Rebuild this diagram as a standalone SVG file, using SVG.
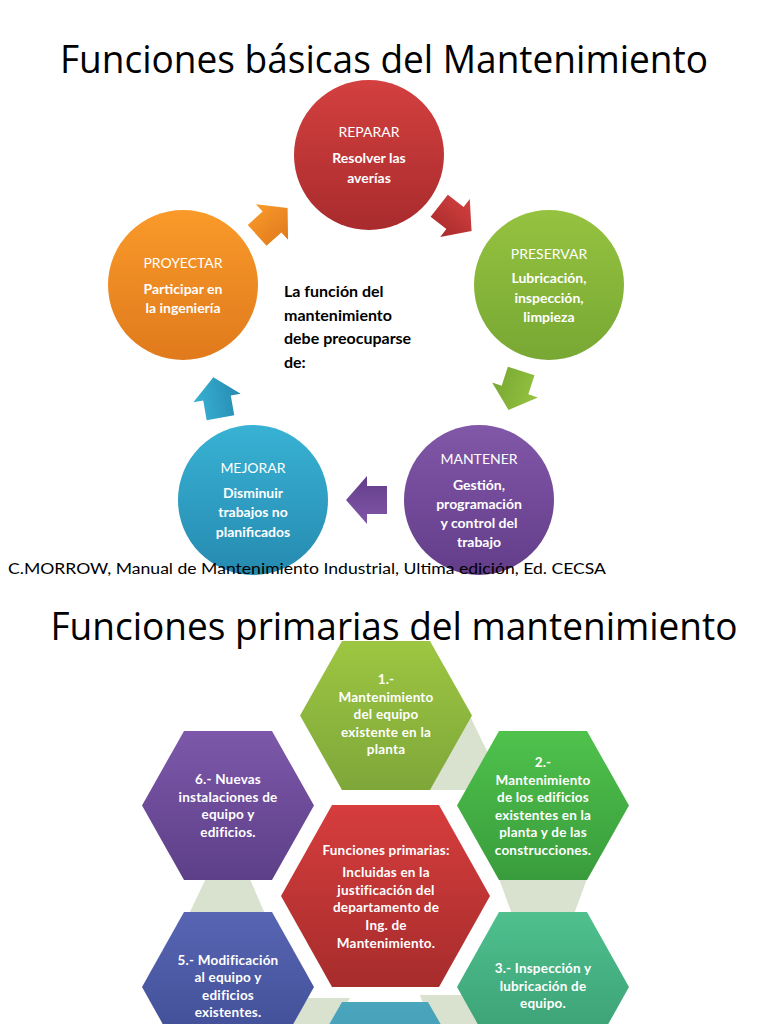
<svg xmlns="http://www.w3.org/2000/svg" width="768" height="1024" viewBox="0 0 768 1024">
<style>
.title{font-family:"Open Sans","Liberation Sans",sans-serif;font-size:38px;fill:#000;text-anchor:middle}
.cite{font-family:Lato,"Liberation Sans",sans-serif;font-size:16px;fill:#000}
.note{font-family:Lato,"Liberation Sans",sans-serif;font-size:16px;font-weight:bold;fill:#000}
.ct{font-family:Lato,"Liberation Sans",sans-serif;font-size:14px;fill:#fff;text-anchor:middle}
.cb{font-weight:bold}
.hx{font-family:Lato,"Liberation Sans",sans-serif;font-size:13.5px;font-weight:bold;fill:#fff;text-anchor:middle;letter-spacing:0.2px}
.conn{fill:#d9e2cf}
</style>
<defs>
<linearGradient id="gRed" x1="0" y1="0" x2="0" y2="1"><stop offset="0" stop-color="#d3403f"/><stop offset="1" stop-color="#a92b2d"/></linearGradient>
<linearGradient id="gGrn" x1="0" y1="0" x2="0" y2="1"><stop offset="0" stop-color="#95c23f"/><stop offset="1" stop-color="#78a834"/></linearGradient>
<linearGradient id="gPur" x1="0" y1="0" x2="0" y2="1"><stop offset="0" stop-color="#8157a8"/><stop offset="1" stop-color="#633d8a"/></linearGradient>
<linearGradient id="gBlu" x1="0" y1="0" x2="0" y2="1"><stop offset="0" stop-color="#38b2d4"/><stop offset="1" stop-color="#268ab0"/></linearGradient>
<linearGradient id="gOrg" x1="0" y1="0" x2="0" y2="1"><stop offset="0" stop-color="#f99a2a"/><stop offset="1" stop-color="#e07a1c"/></linearGradient>
<linearGradient id="h1" x1="0" y1="0" x2="0" y2="1"><stop offset="0" stop-color="#9dc642"/><stop offset="1" stop-color="#7ea73a"/></linearGradient>
<linearGradient id="h2" x1="0" y1="0" x2="0" y2="1"><stop offset="0" stop-color="#4fc24c"/><stop offset="1" stop-color="#399c3c"/></linearGradient>
<linearGradient id="h3" x1="0" y1="0" x2="0" y2="1"><stop offset="0" stop-color="#4fc08e"/><stop offset="1" stop-color="#389b70"/></linearGradient>
<linearGradient id="h4" x1="0" y1="0" x2="0" y2="1"><stop offset="0" stop-color="#4aa5bd"/><stop offset="1" stop-color="#3a8da8"/></linearGradient>
<linearGradient id="h5" x1="0" y1="0" x2="0" y2="1"><stop offset="0" stop-color="#5865b3"/><stop offset="1" stop-color="#3d4b92"/></linearGradient>
<linearGradient id="h6" x1="0" y1="0" x2="0" y2="1"><stop offset="0" stop-color="#7d58aa"/><stop offset="1" stop-color="#5d3f88"/></linearGradient>
<linearGradient id="hC" x1="0" y1="0" x2="0" y2="1"><stop offset="0" stop-color="#d63d3d"/><stop offset="1" stop-color="#a72c2c"/></linearGradient>
<polygon id="arrow" points="-20,-14 0,-14 0,-24 21,0 0,24 0,14 -20,14"/>
</defs>

<text class="title" x="384" y="73" textLength="648" lengthAdjust="spacingAndGlyphs">Funciones básicas del Mantenimiento</text>

<g id="connectors-top">
<use href="#arrow" fill="url(#gOrg)" transform="translate(272,222) rotate(-42)"/>
<use href="#arrow" fill="url(#gRed)" transform="translate(455,218) rotate(38)"/>
<use href="#arrow" fill="url(#gGrn)" transform="translate(515,390) rotate(108)"/>
<use href="#arrow" fill="url(#gPur)" transform="translate(367,500) rotate(180)"/>
<use href="#arrow" fill="url(#gBlu)" transform="translate(217,398) rotate(-100)"/>
</g>

<g id="reparar">
<circle cx="369" cy="155" r="75" fill="url(#gRed)"/>
<text class="ct" x="369" y="137">REPARAR</text>
<text class="ct cb" x="369" y="163">Resolver las</text>
<text class="ct cb" x="369" y="183">averías</text>
</g>
<g id="preservar">
<circle cx="549" cy="285" r="75" fill="url(#gGrn)"/>
<text class="ct" x="549" y="259">PRESERVAR</text>
<text class="ct cb" x="549" y="283">Lubricación,</text>
<text class="ct cb" x="549" y="303">inspección,</text>
<text class="ct cb" x="549" y="322">limpieza</text>
</g>
<g id="mantener">
<circle cx="479" cy="500" r="75" fill="url(#gPur)"/>
<text class="ct" x="479" y="464">MANTENER</text>
<text class="ct cb" x="479" y="490">Gestión,</text>
<text class="ct cb" x="479" y="509">programación</text>
<text class="ct cb" x="479" y="528">y control del</text>
<text class="ct cb" x="479" y="547">trabajo</text>
</g>
<g id="mejorar">
<circle cx="253" cy="500" r="75" fill="url(#gBlu)"/>
<text class="ct" x="253" y="473">MEJORAR</text>
<text class="ct cb" x="253" y="498">Disminuir</text>
<text class="ct cb" x="253" y="517">trabajos no</text>
<text class="ct cb" x="253" y="537">planificados</text>
</g>
<g id="proyectar">
<circle cx="183" cy="285" r="75" fill="url(#gOrg)"/>
<text class="ct" x="183" y="268">PROYECTAR</text>
<text class="ct cb" x="183" y="294">Participar en</text>
<text class="ct cb" x="183" y="313">la ingeniería</text>
</g>

<g id="note">
<text class="note" x="284" y="297">La función del</text>
<text class="note" x="284" y="321">mantenimiento</text>
<text class="note" x="284" y="344">debe preocuparse</text>
<text class="note" x="284" y="368">de:</text>
</g>

<text class="cite" x="8" y="574" textLength="598" lengthAdjust="spacingAndGlyphs">C.MORROW, Manual de Mantenimiento Industrial, Ultima edición, Ed. CECSA</text>

<text class="title" x="394" y="640" textLength="687" lengthAdjust="spacingAndGlyphs">Funciones primarias del mantenimiento</text>

<g id="connectors-hex">
<polygon class="conn" points="468,712 428,790 506,790"/>
<polygon class="conn" points="498,876 588,876 570,925 516,925"/>
<polygon class="conn" points="210,870 246,870 266,916 188,916"/>
<polygon class="conn" points="420,995 462,995 490,1024 430,1024"/>
<polygon class="conn" points="300,998 350,998 335,1024 280,1024"/>
</g>

<g id="hex1">
<polygon points="300,715.5 342,641 430,641 472,715.5 430,790 342,790" fill="url(#h1)"/>
<text class="hx" x="386" y="684">1.-</text>
<text class="hx" x="386" y="702">Mantenimiento</text>
<text class="hx" x="386" y="719">del equipo</text>
<text class="hx" x="386" y="737">existente en la</text>
<text class="hx" x="386" y="754">planta</text>
</g>
<g id="hex2">
<polygon points="457,805.5 499,731 587,731 629,805.5 587,880 499,880" fill="url(#h2)"/>
<text class="hx" x="543" y="767">2.-</text>
<text class="hx" x="543" y="785">Mantenimiento</text>
<text class="hx" x="543" y="802">de los edificios</text>
<text class="hx" x="543" y="820">existentes en la</text>
<text class="hx" x="543" y="837">planta y de las</text>
<text class="hx" x="543" y="855">construcciones.</text>
</g>
<g id="hex3">
<polygon points="457,987 499,912 587,912 629,987 587,1062 499,1062" fill="url(#h3)"/>
<text class="hx" x="543" y="973">3.- Inspección y</text>
<text class="hx" x="543" y="991">lubricación de</text>
<text class="hx" x="543" y="1008">equipo.</text>
</g>
<g id="hex4">
<polygon points="299,1077 342,1002 428,1002 471,1077 428,1152 342,1152" fill="url(#h4)"/>
</g>
<g id="hex5">
<polygon points="142,987 184,912 272,912 314,987 272,1062 184,1062" fill="url(#h5)"/>
<text class="hx" x="228" y="965">5.- Modificación</text>
<text class="hx" x="228" y="982">al equipo y</text>
<text class="hx" x="228" y="1000">edificios</text>
<text class="hx" x="228" y="1017">existentes.</text>
</g>
<g id="hex6">
<polygon points="142,805.5 184,731 272,731 314,805.5 272,880 184,880" fill="url(#h6)"/>
<text class="hx" x="228" y="784">6.- Nuevas</text>
<text class="hx" x="228" y="802">instalaciones de</text>
<text class="hx" x="228" y="819">equipo y</text>
<text class="hx" x="228" y="837">edificios.</text>
</g>
<g id="hexCenter">
<polygon points="281,896 332,805 439,805 490,896 439,987 332,987" fill="url(#hC)"/>
<text class="hx" x="386" y="855">Funciones primarias:</text>
<text class="hx" x="386" y="877">Incluidas en la</text>
<text class="hx" x="386" y="895">justificación del</text>
<text class="hx" x="386" y="912">departamento de</text>
<text class="hx" x="386" y="930">Ing. de</text>
<text class="hx" x="386" y="948">Mantenimiento.</text>
</g>
</svg>
